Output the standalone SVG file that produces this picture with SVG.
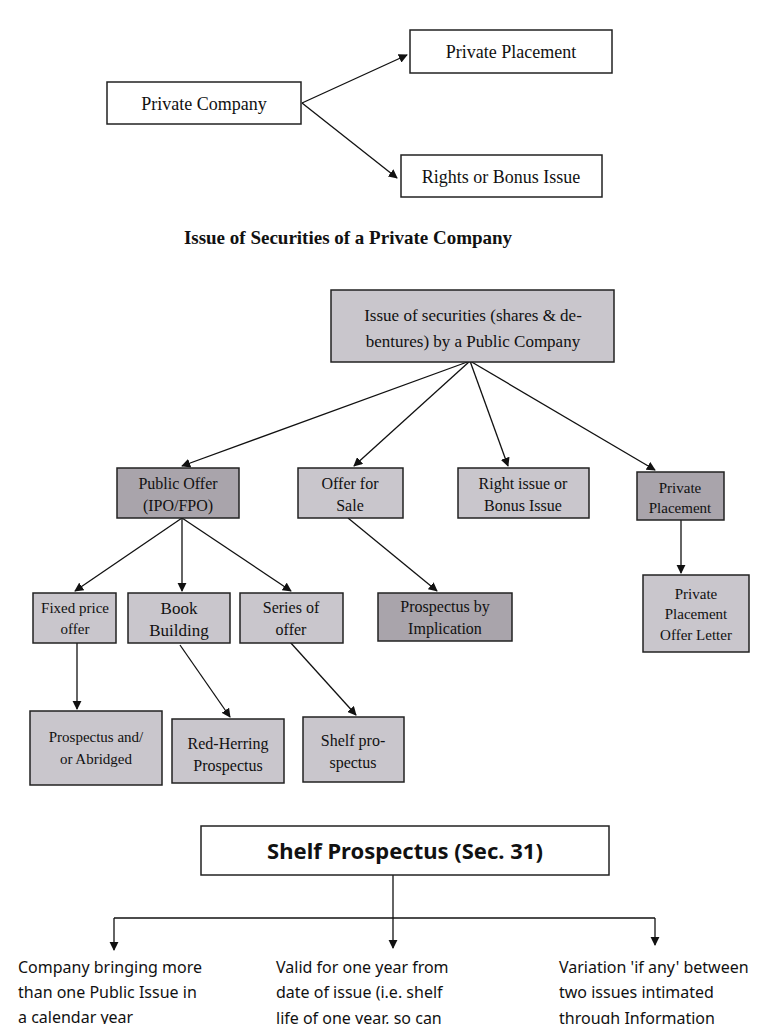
<svg xmlns="http://www.w3.org/2000/svg" width="768" height="1024" viewBox="0 0 768 1024">
<defs>
<marker id="ah" viewBox="0 0 10 10" refX="9" refY="5" markerWidth="7" markerHeight="7" orient="auto-start-reverse"><path d="M0,0 L10,5 L0,10 z" fill="#111"/></marker>
<style>
.t{font-family:"Liberation Serif",serif;fill:#111;text-anchor:middle}
.b{fill:#fff;stroke:#222;stroke-width:1.5}
.g{fill:#c9c6cc;stroke:#222;stroke-width:1.5}
.d{fill:#a9a4ab;stroke:#222;stroke-width:1.5}
.c line,.c path{stroke:#111;stroke-width:1.3;fill:none;marker-end:url(#ah)}
.s{font-family:"Noto Sans","DejaVu Sans",sans-serif;fill:#111;font-size:16px}
</style>
</defs>
<rect width="768" height="1024" fill="#fff"/>
<g class="c">
<line x1="302" y1="103" x2="407" y2="55"/>
<line x1="302" y1="103" x2="397" y2="178"/>
<line x1="470" y1="361" x2="182" y2="466"/>
<line x1="470" y1="361" x2="354" y2="466"/>
<line x1="470" y1="361" x2="508" y2="466"/>
<line x1="470" y1="361" x2="655" y2="470"/>
<line x1="182" y1="518" x2="75" y2="591"/>
<line x1="182" y1="518" x2="182" y2="591"/>
<line x1="182" y1="518" x2="291" y2="591"/>
<line x1="348" y1="518" x2="437" y2="591"/>
<line x1="681" y1="519" x2="681" y2="573"/>
<line x1="77" y1="642" x2="77" y2="709"/>
<line x1="180" y1="645" x2="230" y2="717"/>
<line x1="290" y1="642" x2="356" y2="715"/>
<path d="M393,875 V948" />
<path d="M114,918 H655" style="marker-end:none"/>
<line x1="114" y1="918" x2="114" y2="950"/>
<line x1="655" y1="918" x2="655" y2="945"/>
</g>
<g id="n1"><rect class="b" x="107" y="82" width="194" height="42"/><text class="t" x="204" y="110" font-size="18">Private Company</text></g>
<g id="n2"><rect class="b" x="410" y="30" width="202" height="43"/><text class="t" x="511" y="58" font-size="18">Private Placement</text></g>
<g id="n3"><rect class="b" x="401" y="155" width="201" height="42"/><text class="t" x="501" y="183" font-size="18">Rights or Bonus Issue</text></g>
<text class="t" x="348" y="244" font-size="19" font-weight="bold">Issue of Securities of a Private Company</text>
<g id="p0"><rect class="g" x="331" y="290" width="283" height="72"/><text class="t" x="473" y="321" font-size="17">Issue of securities (shares &amp; de-</text><text class="t" x="473" y="347" font-size="17">bentures) by a Public Company</text></g>
<g id="p1"><rect class="d" x="117" y="468" width="122" height="50"/><text class="t" x="178" y="489" font-size="16">Public Offer</text><text class="t" x="178" y="511" font-size="16">(IPO/FPO)</text></g>
<g id="p2"><rect class="g" x="298" y="468" width="105" height="50"/><text class="t" x="350" y="489" font-size="16">Offer for</text><text class="t" x="350" y="511" font-size="16">Sale</text></g>
<g id="p3"><rect class="g" x="458" y="468" width="131" height="50"/><text class="t" x="523" y="489" font-size="16">Right issue or</text><text class="t" x="523" y="511" font-size="16">Bonus Issue</text></g>
<g id="p4"><rect class="d" x="637" y="472" width="87" height="48"/><text class="t" x="680" y="493" font-size="15">Private</text><text class="t" x="680" y="513" font-size="15">Placement</text></g>
<g id="p5"><rect class="g" x="33" y="593" width="83" height="50"/><text class="t" x="75" y="613" font-size="15">Fixed price</text><text class="t" x="75" y="634" font-size="15">offer</text></g>
<g id="p6"><rect class="g" x="128" y="593" width="102" height="50"/><text class="t" x="179" y="614" font-size="17">Book</text><text class="t" x="179" y="636" font-size="17">Building</text></g>
<g id="p7"><rect class="g" x="240" y="593" width="103" height="50"/><text class="t" x="291" y="613" font-size="16">Series of</text><text class="t" x="291" y="635" font-size="16">offer</text></g>
<g id="p8"><rect class="d" x="378" y="593" width="134" height="48"/><text class="t" x="445" y="612" font-size="16">Prospectus by</text><text class="t" x="445" y="634" font-size="16">Implication</text></g>
<g id="p9"><rect class="g" x="643" y="575" width="106" height="77"/><text class="t" x="696" y="599" font-size="15">Private</text><text class="t" x="696" y="619" font-size="15">Placement</text><text class="t" x="696" y="640" font-size="15">Offer Letter</text></g>
<g id="p10"><rect class="g" x="30" y="711" width="132" height="74"/><text class="t" x="96" y="742" font-size="15">Prospectus and/</text><text class="t" x="96" y="764" font-size="15">or Abridged</text></g>
<g id="p11"><rect class="g" x="172" y="719" width="112" height="64"/><text class="t" x="228" y="749" font-size="16">Red-Herring</text><text class="t" x="228" y="771" font-size="16">Prospectus</text></g>
<g id="p12"><rect class="g" x="303" y="717" width="101" height="65"/><text class="t" x="353" y="746" font-size="16">Shelf pro-</text><text class="t" x="353" y="768" font-size="16">spectus</text></g>
<g id="sp"><rect class="b" x="201" y="826" width="408" height="49"/><text x="405" y="859" font-size="22" font-weight="bold" text-anchor="middle" style="font-family:'Noto Sans','DejaVu Sans',sans-serif;fill:#111">Shelf Prospectus (Sec. 31)</text></g>
<g id="b1"><text class="s" x="18" y="973">Company bringing more</text><text class="s" x="18" y="998">than one Public Issue in</text><text class="s" x="18" y="1023">a calendar year</text></g>
<g id="b2"><text class="s" x="276" y="973">Valid for one year from</text><text class="s" x="276" y="998">date of issue (i.e. shelf</text><text class="s" x="276" y="1024">life of one year, so can</text></g>
<g id="b3"><text class="s" x="559" y="973" font-size="15">Variation 'if any' between</text><text class="s" x="559" y="998" font-size="15">two issues intimated</text><text class="s" x="559" y="1024" font-size="15">through Information</text></g>
</svg>
